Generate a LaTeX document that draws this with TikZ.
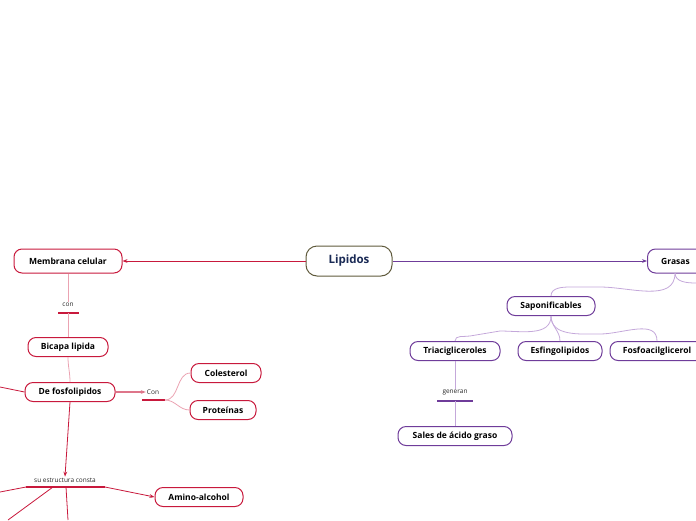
\documentclass[tikz,border=0pt]{standalone}
\usepackage{fontspec}
\setmainfont{Open Sans}
\usetikzlibrary{arrows.meta}
\definecolor{rd}{HTML}{C8193C}
\definecolor{lrd}{HTML}{EBA3B2}
\definecolor{pu}{HTML}{6F3C9A}
\definecolor{lpu}{HTML}{C4A8DA}
\definecolor{ol}{HTML}{5F5A3C}
\definecolor{nv}{HTML}{1A2A55}
\begin{document}
\begin{tikzpicture}[x=1pt,y=-1pt,
 box/.style={draw,rounded corners=8pt,line width=1pt,fill=white,font=\fontsize{8.5}{10}\selectfont\bfseries,inner sep=0pt,minimum height=19pt},
 rbox/.style={box,draw=rd},
 pbox/.style={box,draw=pu},
 lab/.style={font=\fontsize{6.5}{8}\selectfont,text=black!85,inner sep=1pt},
 >={Stealth[length=5pt]}]
\useasboundingbox (0,0) rectangle (696,520);
% central
\node[draw=ol,line width=1pt,rounded corners=11pt,minimum width=86pt,minimum height=30pt,font=\fontsize{11.5}{13}\selectfont\bfseries,text=nv] (lip) at (349,261) {Lipidos};
% left
\node[rbox,minimum width=108pt,minimum height=24pt] (mem) at (68,261) {Membrana celular};
\draw[draw=rd,line width=1pt,->] (lip.west) -- (mem.east);
\node[lab] (con1) at (68,305) {con};
\coordinate (c1a) at (58,313); \coordinate (c1b) at (79,313);
\draw[rd,line width=1.2pt] (c1a) -- (c1b);
\node[rbox,minimum width=80pt] (bic) at (68,347) {Bicapa lipida};
\draw[lrd,line width=0.8pt] (mem.south) -- (con1.north);
\draw[lrd,line width=0.8pt] (68,313) -- (bic.north);
\node[rbox,minimum width=90pt] (fos) at (70,392) {De fosfolipidos};
\draw[lrd,line width=0.8pt] (bic.south) to[out=-90,in=90] (fos.north);
\coordinate (lo1) at (0,387);
\draw[rd,line width=0.8pt] (fos.west) -- (lo1);
\node[lab] (con2) at (153,392) {Con};
\draw[rd!60,line width=1.5pt,->] (fos.east) -- (con2.west);
\coordinate (c2a) at (142,400); \coordinate (c2b) at (165,400);
\draw[rd,line width=1.2pt] (c2a) -- (c2b);
\node[rbox,minimum width=70pt] (col) at (226,373) {Colesterol};
\node[rbox,minimum width=66pt] (pro) at (223,410) {Proteínas};
\draw[lrd,line width=0.8pt] (c2b) to[out=0,in=180] (col.west);
\draw[lrd,line width=0.8pt] (c2b) to[out=0,in=180] (pro.west);
\node[lab] (su) at (65,480) {su estructura consta};
\coordinate (sa) at (26,487); \coordinate (sb) at (105,487);
\draw[rd,line width=1.2pt] (sa) -- (sb);
\draw[rd,line width=0.8pt,->] (fos.south) -- (su.north);
\node[rbox,minimum width=88pt] (ami) at (199,497) {Amino-alcohol};
\draw[rd,line width=0.8pt,->] (sb) -- (ami.west);
\coordinate (lo2) at (0,492); \coordinate (lo3) at (8,520); \coordinate (lo4) at (68,520);
\draw[rd,line width=0.8pt] (sa) -- (lo2);
\draw[rd,line width=0.8pt] (53,487) -- (lo3);
\draw[rd,line width=0.8pt] (66,487) -- (lo4);
% right
\node[pbox,minimum width=70pt,minimum height=24pt,anchor=west] (gra) at (647,261) {\hspace*{-14pt}Grasas};
\draw[draw=pu,line width=1pt,->] (lip.east) -- (gra.west);
\node[pbox,minimum width=88pt] (sap) at (551,306) {Saponificables};
\draw[lpu,line width=0.8pt] (675,273) to[out=-90,in=0] (600,287) -- (570,287) to[out=180,in=90] (sap.north);
\coordinate (ro) at (696,283);
\draw[lpu,line width=0.8pt] (675,273) to[out=-90,in=180] (ro);
\node[pbox,minimum width=90pt] (tri) at (455,351) {Triacigliceroles};
\node[pbox,minimum width=84pt] (esf) at (560,351) {Esfingolipidos};
\node[pbox,minimum width=94pt] (fsf) at (657,351) {Fosfoacilglicerol};
\draw[lpu,line width=0.8pt] (sap.south) to[out=-90,in=0] (500,331) -- (470,336) to[out=190,in=90] (tri.north);
\draw[lpu,line width=0.8pt] (sap.south) to[out=-90,in=90] (esf.north);
\draw[lpu,line width=0.8pt] (sap.south) to[out=-90,in=180] (600,334) to[out=0,in=90] (fsf.north);
\node[lab] (gen) at (455,393) {generan};
\coordinate (ga) at (437,401); \coordinate (gb) at (473,401);
\draw[pu,line width=1.2pt] (ga) -- (gb);
\draw[lpu,line width=0.8pt] (tri.south) -- (gen.north);
\node[pbox,minimum width=114pt] (sal) at (455,436) {Sales de ácido graso};
\draw[lpu,line width=0.8pt] (455,401) -- (sal.north);
\end{tikzpicture}
\end{document}
